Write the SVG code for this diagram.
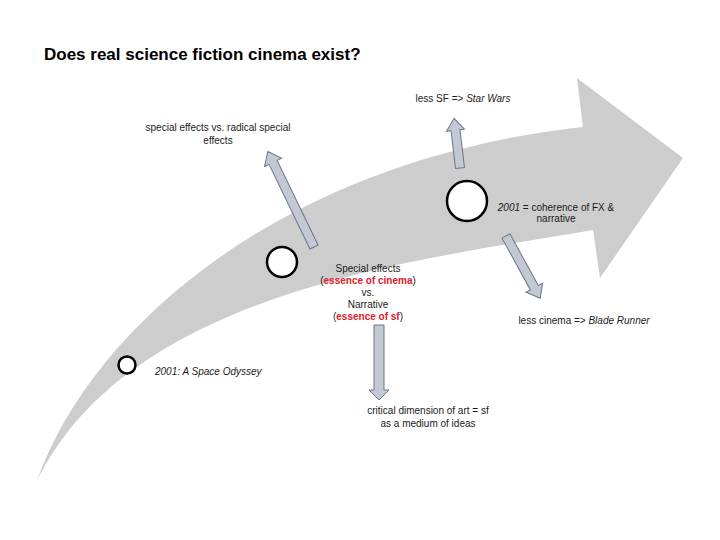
<svg xmlns="http://www.w3.org/2000/svg" width="720" height="540" viewBox="0 0 720 540">
<style>
text{font-family:"Liberation Sans",Arial,sans-serif;font-size:10px;fill:#1a1a1a}
.c{text-anchor:middle}
.i{font-style:italic}
.red{fill:#e0202a;font-weight:bold}
.title{font-size:17px;font-weight:bold;fill:#000}
.dot{fill:#fff;stroke:#000;stroke-width:2.5}
.blk{fill:#c3c9d2;stroke:#66768c;stroke-width:1}
</style>
<rect width="720" height="540" fill="#fff"/>
<text class="title" x="44" y="60">Does real science fiction cinema exist?</text>
<g id="timeline-arrow">
<path d="M37,481 C90,330 280,160 583,127 L577,78 L683,158 L600,278 L593,230 C420,260 130,290 37,481 Z" fill="#cdcdcd"/>
</g>
<g id="connectors">
<polygon class="blk" transform="translate(314,247) rotate(-115.8)" points="0,-4.5 94,-4.5 94,-9.5 106,0 94,9.5 94,4.5 0,4.5"/>
<polygon class="blk" transform="translate(460,168) rotate(-96.8)" points="0,-4.5 38,-4.5 38,-9 50,0 38,9 38,4.5 0,4.5"/>
<polygon class="blk" transform="translate(506,236) rotate(61.3)" points="0,-4.5 59,-4.5 59,-9.5 71,0 59,9.5 59,4.5 0,4.5"/>
<polygon class="blk" transform="translate(379,325) rotate(90)" points="0,-5 65,-5 65,-10 75,0 65,10 65,5 0,5"/>
</g>
<g id="node-odyssey">
<circle class="dot" cx="127" cy="365" r="8.5"/>
<text class="i" x="155" y="375">2001: A Space Odyssey</text>
</g>
<g id="node-special-effects">
<circle class="dot" cx="282" cy="262" r="15"/>
<text class="c" x="368" y="272">Special effects</text>
<text class="c" x="368" y="284">(<tspan class="red">essence of cinema</tspan>)</text>
<text class="c" x="368" y="296">vs.</text>
<text class="c" x="368" y="308">Narrative</text>
<text class="c" x="368" y="320">(<tspan class="red">essence of sf</tspan>)</text>
</g>
<g id="node-coherence">
<circle class="dot" cx="467" cy="201" r="20"/>
<text class="c" x="556" y="211"><tspan class="i">2001</tspan> = coherence of FX &amp;</text>
<text class="c" x="556" y="222">narrative</text>
</g>
<g id="node-radical">
<text class="c" x="218" y="131">special effects vs. radical special</text>
<text class="c" x="218" y="144">effects</text>
</g>
<g id="node-star-wars">
<text class="c" x="463" y="102">less SF =&gt; <tspan class="i">Star Wars</tspan></text>
</g>
<g id="node-blade-runner">
<text class="c" x="584" y="324">less cinema =&gt; <tspan class="i">Blade Runner</tspan></text>
</g>
<g id="node-critical">
<text class="c" x="428" y="414">critical dimension of art = sf</text>
<text class="c" x="428" y="427">as a medium of ideas</text>
</g>
</svg>
